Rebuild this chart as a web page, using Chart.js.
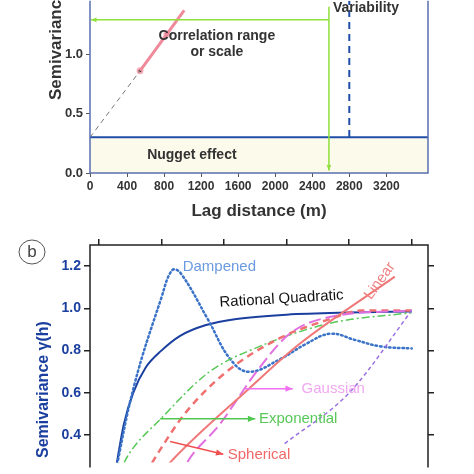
<!DOCTYPE html>
<html>
<head>
<meta charset="utf-8">
<script src="https://cdn.jsdelivr.net/npm/chart.js@4.4.0/dist/chart.umd.min.js"></script>
<style>
  body { margin: 0; background: #fff; overflow: hidden; }
  #wrapA { position: absolute; left: 0; top: -10px; width: 474px; height: 236px; }
  #wrapB { position: absolute; left: 0; top: 230px; width: 474px; height: 244px; }
</style>
</head>
<body>
<div id="wrapA"><canvas id="chartA"></canvas></div>
<div id="wrapB"><canvas id="chartB"></canvas></div>
<script>
// ---- panel (a): experimental semivariogram ----
const lagTicks = [0, 400, 800, 1200, 1600, 2000, 2400, 2800, 3200];
const semiTicksA = [0, 0.5, 1.0];
const nugget = 0.3;
const rangeLag = 2580;
const sillLevel = 1.29;
const variabilityLag = 2800;
const expPoints = [{ x: 540, y: 0.86 }, { x: 830, y: 1.17 }];
const fitLine = [{ x: 540, y: 0.86 }, { x: 1017, y: 1.37 }];
const extrapolation = [{ x: 0, y: 0.3 }, { x: 540, y: 0.86 }];

// ---- panel (b): model semivariograms ----
const modelTicks = [0, 1, 2, 3, 4, 5];
const semiTicksB = [0.4, 0.6, 0.8, 1.0, 1.2];
const rationalQuadratic = [[0.25, 0.2], [0.4, 0.45], [0.55, 0.6], [0.75, 0.72], [1, 0.8], [1.3, 0.87], [1.7, 0.92], [2.2, 0.95], [3, 0.97], [4, 0.98], [5, 0.985]];
const dampened = [[0.25, 0.2], [0.57, 0.64], [1, 1.05], [1.17, 1.18], [1.3, 1.17], [1.74, 0.95], [2.1, 0.76], [2.4, 0.7], [2.9, 0.76], [3.3, 0.83], [3.7, 0.88], [4.1, 0.85], [4.5, 0.82], [5, 0.81]];
const exponential = [[0.3, 0.2], [0.46, 0.3], [1, 0.48], [1.77, 0.7], [2.57, 0.82], [3.7, 0.93], [5, 0.98]];
const spherical = [[0.75, 0.22], [1, 0.34], [1.37, 0.5], [2, 0.69], [2.9, 0.86], [3.7, 0.95], [4.2, 0.99], [5, 0.99]];
const gaussian = [[1.3, 0.2], [1.37, 0.25], [1.93, 0.45], [2.57, 0.72], [3.05, 0.88], [3.7, 0.96], [5, 0.99]];
const linear = [[1.0, 0.22], [1.17, 0.28], [2.4, 0.62], [3.2, 0.83], [4.73, 1.15]];
const power = [[2.97, 0.36], [4, 0.6], [5, 0.99]];

const FONT = 'Liberation Sans, Arial, sans-serif';
const pts = arr => arr.map(p => ({ x: p[0], y: p[1] }));

function arrow(ctx, x1, y1, x2, y2, color, size) {
  const a = Math.atan2(y2 - y1, x2 - x1);
  ctx.save();
  ctx.strokeStyle = color; ctx.fillStyle = color; ctx.lineWidth = 1.5;
  ctx.beginPath(); ctx.moveTo(x1, y1); ctx.lineTo(x2, y2); ctx.stroke();
  ctx.beginPath();
  ctx.moveTo(x2, y2);
  ctx.lineTo(x2 - size * Math.cos(a - 0.4), y2 - size * Math.sin(a - 0.4));
  ctx.lineTo(x2 - size * Math.cos(a + 0.4), y2 - size * Math.sin(a + 0.4));
  ctx.closePath(); ctx.fill();
  ctx.restore();
}

function text(ctx, str, x, y, font, color, align, rot) {
  ctx.save();
  ctx.translate(x, y);
  if (rot) ctx.rotate(rot);
  ctx.font = font; ctx.fillStyle = color;
  ctx.textAlign = align || 'center'; ctx.textBaseline = 'middle';
  ctx.fillText(str, 0, 0);
  ctx.restore();
}

const annotateA = {
  id: 'annotateA',
  afterDatasetsDraw(chart) {
    const { ctx, chartArea: ca, scales: { x, y } } = chart;
    ctx.save();
    ctx.strokeStyle = '#5a6fb0'; ctx.lineWidth = 1.5;
    ctx.beginPath();
    ctx.moveTo(ca.left, ca.top); ctx.lineTo(ca.left, ca.bottom); ctx.lineTo(ca.right, ca.bottom); ctx.lineTo(ca.right, ca.top);
    ctx.stroke();
    ctx.restore();
    arrow(ctx, x.getPixelForValue(rangeLag), y.getPixelForValue(sillLevel), x.getPixelForValue(0) + 1, y.getPixelForValue(sillLevel), '#8fe03a', 6);
    arrow(ctx, x.getPixelForValue(rangeLag), y.getPixelForValue(1.4), x.getPixelForValue(rangeLag), y.getPixelForValue(0.02), '#8fe03a', 6);
    const b = 'bold 14px ' + FONT;
    text(ctx, 'Correlation range', x.getPixelForValue(1370), y.getPixelForValue(1.15), b, '#333');
    text(ctx, 'or scale', x.getPixelForValue(1370), y.getPixelForValue(1.02), b, '#333');
    text(ctx, 'Nugget effect', x.getPixelForValue(1100), y.getPixelForValue(0.15), b, '#333');
    text(ctx, 'Variability', x.getPixelForValue(2980), y.getPixelForValue(1.39), b, '#333');
    text(ctx, 'Semivariance', 56, 110, 'bold 17px ' + FONT, '#333', 'left', -Math.PI / 2);
  }
};

new Chart(document.getElementById('chartA'), {
  type: 'line',
  data: {
    datasets: [
      { data: [{ x: 0, y: nugget }, { x: 3650, y: nugget }], borderColor: '#1f4fa8', borderWidth: 2, fill: 'origin', backgroundColor: '#fcfaea', pointRadius: 0 },
      { data: extrapolation, borderColor: '#777', borderWidth: 1, borderDash: [5, 4], pointRadius: 0 },
      { data: fitLine, borderColor: '#f08a9a', borderWidth: 3, pointRadius: 0 },
      { data: expPoints, showLine: false, pointRadius: 2.5, pointBackgroundColor: '#222', pointBorderColor: '#f7b0bb', pointBorderWidth: 2 },
      { data: [{ x: variabilityLag, y: 0 }, { x: variabilityLag, y: 1.45 }], borderColor: '#1f4fa8', borderWidth: 2, borderDash: [7, 5], pointRadius: 0 }
    ]
  },
  options: {
    responsive: true, maintainAspectRatio: false, animation: false,
    layout: { padding: { top: 0, right: 46, left: 0, bottom: 0 } },
    plugins: { legend: { display: false }, tooltip: { enabled: false } },
    scales: {
      x: {
        type: 'linear', min: 0, max: 3650,
        afterBuildTicks: s => { s.ticks = lagTicks.map(v => ({ value: v })); },
        afterFit: s => { s.height = 53; },
        grid: { drawOnChartArea: false, tickLength: 4, color: '#555' },
        border: { display: false },
        ticks: { color: '#333', font: { family: FONT, size: 12, weight: 'bold' }, padding: 2, maxRotation: 0, callback: v => String(v) },
        title: { display: true, text: 'Lag distance (m)', color: '#333', font: { family: FONT, size: 17, weight: 'bold' }, padding: { top: 2 } }
      },
      y: {
        min: 0, max: 1.45,
        afterBuildTicks: s => { s.ticks = semiTicksA.map(v => ({ value: v })); },
        afterFit: s => { s.width = 90; },
        grid: { drawOnChartArea: false, tickLength: 4, color: '#555' },
        border: { display: false },
        ticks: { color: '#333', font: { family: FONT, size: 13, weight: 'bold' }, callback: v => v.toFixed(1) }
      }
    }
  },
  plugins: [annotateA]
});

const annotateB = {
  id: 'annotateB',
  afterDatasetsDraw(chart) {
    const { ctx, chartArea: ca, scales: { x, y } } = chart;
    ctx.save();
    ctx.strokeStyle = '#222'; ctx.lineWidth = 1.5;
    ctx.beginPath();
    ctx.moveTo(ca.left, ca.bottom + 5); ctx.lineTo(ca.left, ca.top); ctx.lineTo(ca.right, ca.top); ctx.lineTo(ca.right, ca.bottom + 5);
    ctx.stroke();
    ctx.restore();
    const px = u => x.getPixelForValue(u), py = v => y.getPixelForValue(v);
    const f = '15px ' + FONT;
    text(ctx, 'Dampened', px(1.34), py(1.195), f, '#6a9ae0', 'left');
    text(ctx, 'Rational Quadratic', px(2.92), py(1.045), f, '#111', 'center', -0.06);
    text(ctx, 'Linear', px(4.49), py(1.13), f, '#f08080', 'center', -0.95);
    text(ctx, 'Gaussian', px(3.24), py(0.62), f, '#f0a8f0', 'left');
    text(ctx, 'Exponential', px(2.56), py(0.477), f, '#58c858', 'left');
    text(ctx, 'Spherical', px(2.06), py(0.306), f, '#f06868', 'left');
    arrow(ctx, px(2.34), py(0.62), px(3.1), py(0.62), '#f070f0', 8);
    arrow(ctx, px(0.98), py(0.477), px(2.5), py(0.477), '#50c850', 8);
    arrow(ctx, px(1.14), py(0.37), px(1.99), py(0.31), '#f05050', 8);
    // panel letter
    ctx.save();
    ctx.strokeStyle = '#555'; ctx.lineWidth = 1;
    ctx.beginPath(); ctx.ellipse(32, 22, 13, 12, 0, 0, Math.PI * 2); ctx.stroke();
    ctx.restore();
    text(ctx, 'b', 32, 22, '17px ' + FONT, '#444');
    text(ctx, 'Semivariance γ(h)', 44, 228, 'bold 16px ' + FONT, '#1a3f9e', 'left', -Math.PI / 2);
  }
};

const model = (d, color, width, dash) => ({ data: pts(d), borderColor: color, borderWidth: width, borderDash: dash, pointRadius: 0, tension: 0.4, cubicInterpolationMode: 'monotone' });

new Chart(document.getElementById('chartB'), {
  type: 'line',
  data: {
    datasets: [
      model(power, '#9a70e0', 1.5, [4, 3]),
      model(linear, '#f07878', 2, []),
      model(gaussian, '#e070e0', 2, [12, 5]),
      model(spherical, '#f07070', 2.5, [7, 5]),
      model(exponential, '#58c858', 1.5, [8, 3, 2, 3]),
      { data: pts(dampened), borderColor: '#3a73c8', borderWidth: 2.5, borderDash: [1.5, 3], borderCapStyle: 'round', pointRadius: 0, tension: 0.4 },
      model(rationalQuadratic, '#1a3f9e', 2, [])
    ]
  },
  options: {
    responsive: true, maintainAspectRatio: false, animation: false,
    layout: { padding: { top: 15, right: 46, left: 0, bottom: 0 } },
    plugins: { legend: { display: false }, tooltip: { enabled: false } },
    scales: {
      x: {
        type: 'linear', position: 'top', min: -0.14, max: 5.26,
        afterBuildTicks: s => { s.ticks = modelTicks.map(v => ({ value: v })); },
        afterFit: s => { s.height = 0; },
        grid: { drawOnChartArea: false, tickLength: 6, color: '#222', lineWidth: 1.5 },
        border: { display: false },
        ticks: { display: false }
      },
      y: {
        min: 0.27, max: 1.3,
        afterBuildTicks: s => { s.ticks = semiTicksB.map(v => ({ value: v })); },
        afterFit: s => { s.width = 90; },
        grid: { drawOnChartArea: false, tickLength: 6, color: '#222', lineWidth: 1.5 },
        border: { display: false },
        ticks: { color: '#1a3f9e', font: { family: FONT, size: 14, weight: 'bold' }, callback: v => v.toFixed(1) }
      },
      y2: {
        position: 'right', min: 0.27, max: 1.3,
        afterBuildTicks: s => { s.ticks = semiTicksB.map(v => ({ value: v })); },
        afterFit: s => { s.width = 0; },
        grid: { drawOnChartArea: false, tickLength: 6, color: '#222', lineWidth: 1.5 },
        border: { display: false },
        ticks: { display: false }
      }
    }
  },
  plugins: [annotateB]
});
</script>
</body>
</html>
